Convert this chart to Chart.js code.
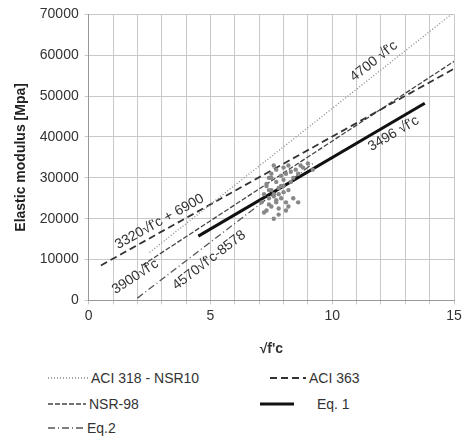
<!DOCTYPE html>
<html><head><script src="https://cdn.jsdelivr.net/npm/chart.js@4"></script>
<style>
body{margin:0;background:#fff;font-family:"Liberation Sans",Arial,sans-serif;}
#wrap{position:relative;width:466px;height:362px;}
.leg{position:absolute;font-size:14px;color:#333;display:flex;align-items:center;}
.leg svg{margin-right:3px}
</style></head><body>
<div id="wrap"><canvas id="c"></canvas></div>
<div class="leg" style="left:48px;top:370px"><svg width="40" height="6"><line x1="0" y1="3" x2="40" y2="3" stroke="#888" stroke-width="1.5" stroke-dasharray="1,2"/></svg>ACI 318 - NSR10</div>
<div class="leg" style="left:270px;top:370px"><svg width="36" height="6"><line x1="0" y1="3" x2="36" y2="3" stroke="#333" stroke-width="1.8" stroke-dasharray="7,4"/></svg>ACI 363</div>
<div class="leg" style="left:48px;top:396px"><svg width="38" height="6"><line x1="0" y1="3" x2="38" y2="3" stroke="#444" stroke-width="1.3" stroke-dasharray="5,2"/></svg>NSR-98</div>
<div class="leg" style="left:260px;top:396px"><svg width="50" height="6"><line x1="0" y1="3" x2="34" y2="3" stroke="#111" stroke-width="3"/></svg>&nbsp;Eq. 1</div>
<div class="leg" style="left:48px;top:420px"><svg width="36" height="6"><line x1="0" y1="3" x2="36" y2="3" stroke="#555" stroke-width="1.3" stroke-dasharray="7,3,1,3"/></svg>Eq.2</div>
<script>
const aci318X=[2.5,15], aci318Y=[11750,70500];
const aci363X=[0.5,15], aci363Y=[8560,56700];
const nsr98X=[2.2,15], nsr98Y=[8580,58500];
const eq1X=[4.5,13.8], eq1Y=[15730,48240];
const eq2X=[2.0,9.2], eq2Y=[560,33470];
const scatterX=[7.1,7.2,7.3,7.3,7.4,7.4,7.5,7.5,7.5,7.6,7.6,7.7,7.7,7.7,7.8,7.8,7.9,7.9,8.0,8.0,8.1,8.1,8.2,8.2,8.3,8.3,8.4,8.5,8.6,8.7,8.8,9.0,9.2,7.2,7.4,7.6,7.8,8.0,7.3,7.5,7.7,7.9,8.2,8.4,7.6,7.8,8.0,8.6,7.4,8.1];
const scatterY=[24000,26000,22000,28000,25000,30000,23000,27000,31000,20000,26000,24500,29000,32000,22500,27500,25000,30500,28000,32500,24000,31000,27000,33000,29000,31500,30000,32000,31000,33000,32500,33500,32000,21500,23500,25500,21000,26500,28500,30000,24000,28000,23000,25000,33000,26000,29500,24000,27000,22000];
const pts=(xs,ys)=>xs.map((x,i)=>({x,y:ys[i]}));
const labels=[
 {t:"4700 \u221Af'c",x:10.9,y:53500,k:4700},
 {t:"3496 \u221Af'c",x:11.6,y:36500,k:3496},
 {t:"3320\u221Af'c + 6900",x:1.2,y:12500,k:3320},
 {t:"3900\u221Af'c",x:1.1,y:1500,k:3900},
 {t:"4570\u221Af'c-8578",x:3.6,y:2500,k:4570}
];
const annot={id:'annot',afterDatasetsDraw(ch){const c=ch.ctx,xs=ch.scales.x,ys=ch.scales.y;
 c.save();c.fillStyle='#333';c.font='14px "Liberation Sans", Arial';
 labels.forEach(l=>{const px=xs.getPixelForValue(l.x),py=ys.getPixelForValue(l.y);
  const dx=xs.getPixelForValue(1)-xs.getPixelForValue(0),dy=ys.getPixelForValue(l.k)-ys.getPixelForValue(0);
  c.save();c.translate(px,py);c.rotate(Math.atan2(dy,dx));c.fillText(l.t,0,0);c.restore();});
 c.restore();}};
const ln=(d,color,w,dash)=>({type:'line',data:d,borderColor:color,borderWidth:w,borderDash:dash,pointRadius:0,fill:false});
new Chart(document.getElementById('c'),{
 data:{datasets:[
  {type:'scatter',data:pts(scatterX,scatterY),backgroundColor:'#888',borderWidth:0,pointRadius:2.2},
  ln(pts(aci318X,aci318Y),'#888',1.3,[1,2]),
  ln(pts(aci363X,aci363Y),'#333',1.8,[7,4]),
  ln(pts(nsr98X,nsr98Y),'#444',1.3,[5,2]),
  ln(pts(eq1X,eq1Y),'#111',3,[]),
  ln(pts(eq2X,eq2Y),'#555',1.3,[7,3,1,3])
 ]},
 options:{responsive:true,maintainAspectRatio:false,animation:false,
  layout:{padding:{top:8,right:12,left:9,bottom:0}},
  plugins:{legend:{display:false},tooltip:{enabled:false}},
  scales:{
   x:{type:'linear',min:0,max:15,border:{color:'#999'},
    ticks:{stepSize:1,color:'#333',font:{size:14,family:'Liberation Sans'},callback:v=>v%5===0?v:''},
    grid:{color:'#c8c8c8',drawTicks:true,tickLength:4},
    title:{display:true,text:"\u221Af'c",color:'#333',font:{size:14,weight:'bold',family:'Liberation Sans'},padding:{top:14}}},
   y:{min:0,max:70000,border:{color:'#999'},
    ticks:{stepSize:10000,color:'#333',padding:6,font:{size:14,family:'Liberation Sans'},callback:v=>String(v)},
    grid:{color:'#c8c8c8',tickLength:4},
    title:{display:true,text:'Elastic modulus [Mpa]',color:'#222',font:{size:14,weight:'bold',family:'Liberation Sans'}}}
  }}
 ,plugins:[annot]});
</script></body></html>
